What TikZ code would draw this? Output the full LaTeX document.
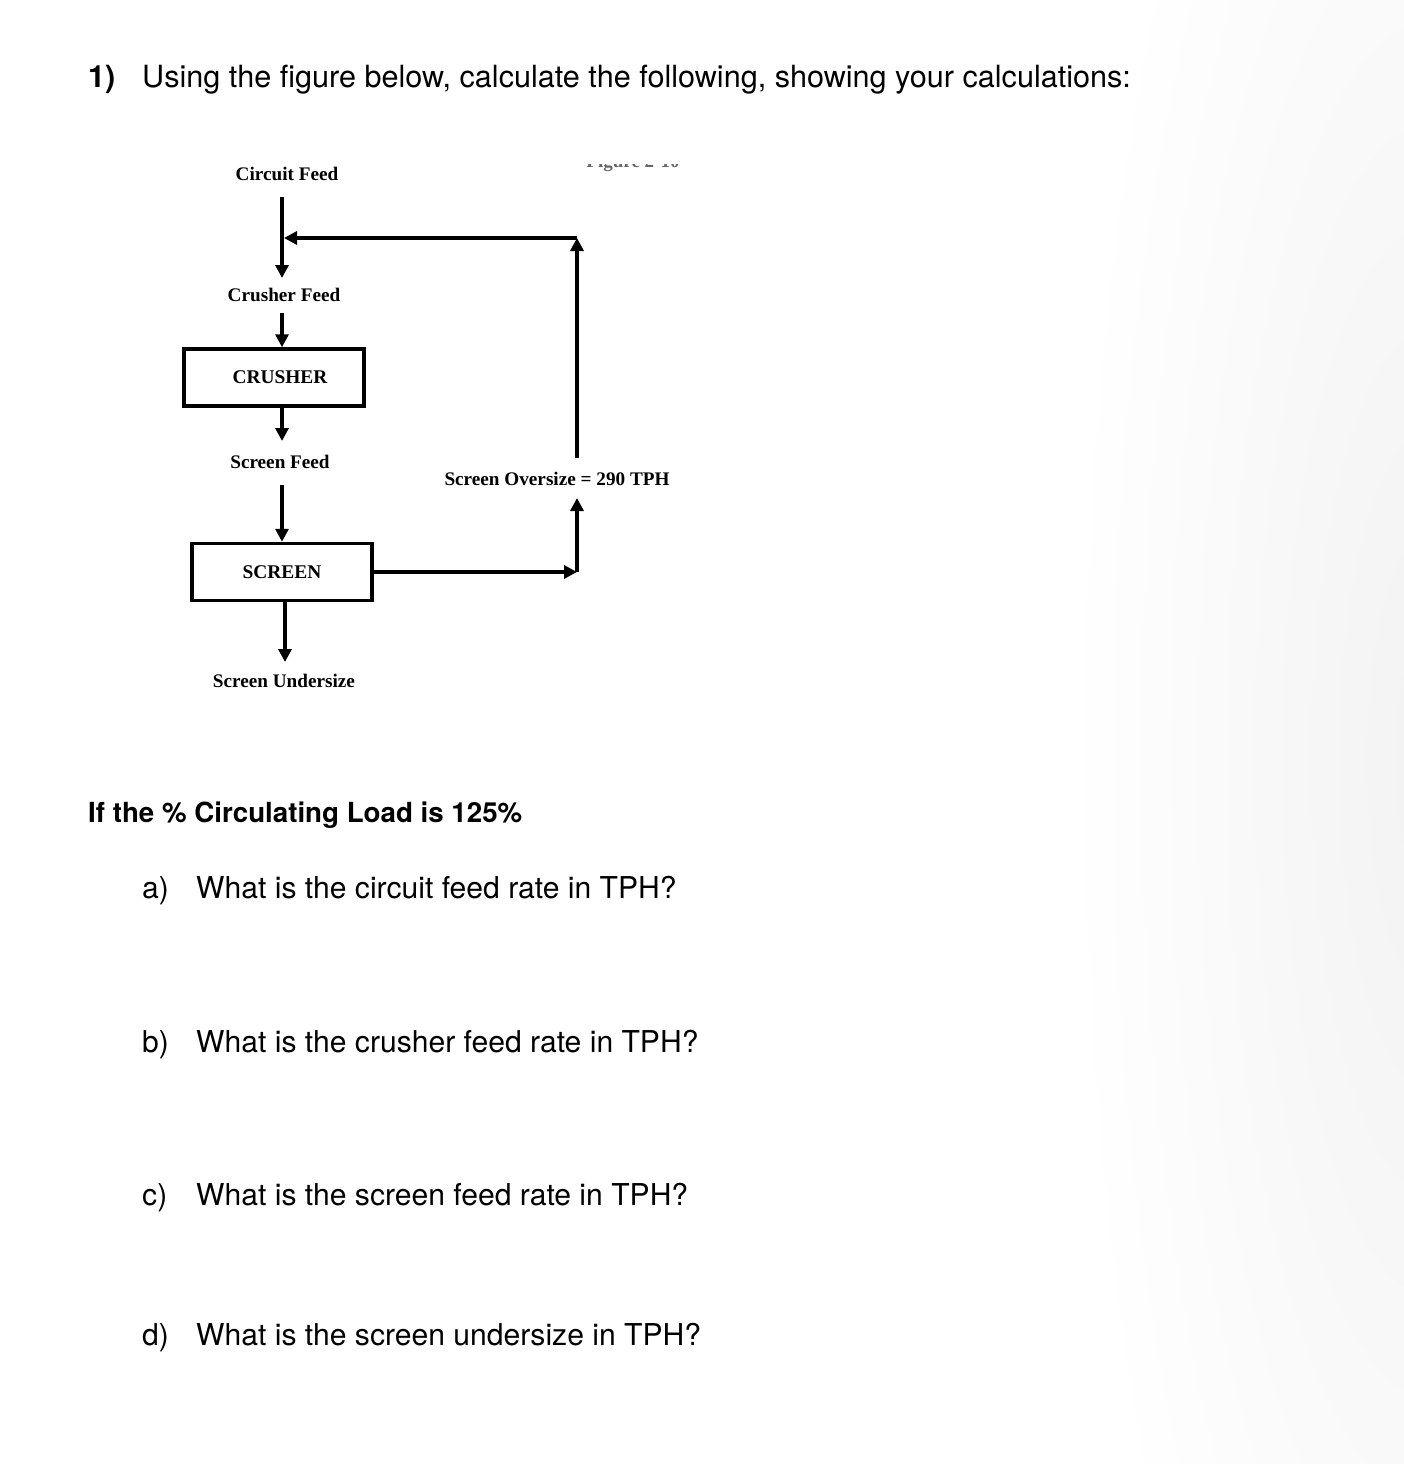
\documentclass[tikz,border=0pt]{standalone}
\usepackage{fontspec}
\setmainfont{Liberation Serif}
\newfontfamily\hv{TeX Gyre Heros}
\usetikzlibrary{arrows.meta}
\tikzset{
  lbl/.style={font=\bfseries\fontsize{19.2}{20}\selectfont, inner sep=0pt},
  box/.style={draw, line width=3.5pt, minimum width=180pt, minimum height=57pt, inner sep=0pt,
              font=\bfseries\fontsize{19.4}{20}\selectfont},
  flow/.style={line width=3.5pt, -{Triangle[length=13pt,width=13pt]}},
  txt/.style={anchor=base west, inner sep=0pt, font=\hv\fontsize{30.1}{32}\selectfont},
  btxt/.style={anchor=base west, inner sep=0pt, font=\hv\bfseries\fontsize{30.6}{32}\selectfont},
}
\begin{document}
\begin{tikzpicture}[x=1pt,y=-1pt]
\useasboundingbox (0,0) rectangle (1404,1464);
\begin{scope}
  \clip (0,0) rectangle (1404,1464);
  \shade[inner color=black!5, outer color=white] (1430,760) ellipse [x radius=360, y radius=1300];
\end{scope}

% question text
\node[btxt] (num) at (88,87) {1)};
\node[txt, font=\hv\fontsize{30.6}{32}\selectfont] (title) at (142,87) {Using the figure below, calculate the following, showing your calculations:};
\node[btxt, font=\hv\bfseries\fontsize{27.7}{30}\selectfont] (head) at (88,822) {If the \% Circulating Load is 125\%};
\node[txt] (qa) at (142,898) {a)};
\node[txt] (ta) at (196,898) {What is the circuit feed rate in TPH?};
\node[txt] (qb) at (142,1052) {b)};
\node[txt] (tb) at (196,1052) {What is the crusher feed rate in TPH?};
\node[txt] (qc) at (142,1205) {c)};
\node[txt] (tc) at (196,1205) {What is the screen feed rate in TPH?};
\node[txt] (qd) at (142,1345) {d)};
\node[txt] (td) at (196,1345) {What is the screen undersize in TPH?};

% cropped caption fragment
\begin{scope}
  \clip (580,164.5) rectangle (690,171);
  \node[anchor=base, inner sep=0pt, font=\bfseries\fontsize{19}{20}\selectfont, text=black!60] (frag) at (633,167) {Figure 2-10};
\end{scope}

% diagram
\node[lbl] (cf) at (287,174) {Circuit Feed};
\node[lbl] (crf) at (284,295) {Crusher Feed};
\node[box] (crusher) at (274,377.5) {\hspace*{12pt}CRUSHER};
\node[lbl] (sf) at (280,462) {Screen Feed};
\node[box] (screen) at (282,572) {SCREEN};
\node[lbl] (so) at (557,479) {Screen Oversize = 290 TPH};
\node[lbl] (su) at (284,681) {Screen Undersize};

\coordinate (c1) at (282,197);
\coordinate (c2) at (282,278);
\coordinate (j) at (284,238);
\coordinate (rt) at (577,238);
\coordinate (rb) at (577,458);
\coordinate (a2) at (282,313);
\coordinate (a3) at (282,408);
\coordinate (a3e) at (282,441);
\coordinate (a4) at (282,485);
\coordinate (sr) at (577,572);
\coordinate (su1) at (577,498);
\coordinate (a5) at (285,662);

\draw[flow] (c1) -- (c2);
\draw[flow] (rb) -- (rt);
\draw[flow] (rt) -- (j);
\draw[flow] (a2) -- (a2 |- crusher.north);
\draw[flow] (a3 |- crusher.south) -- (a3e);
\draw[flow] (a4) -- (a4 |- screen.north);
\draw[flow] (screen.east) -- (sr);
\draw[flow] (sr) -- (su1);
\draw[flow] (a5 |- screen.south) -- (a5);
\end{tikzpicture}
\end{document}
